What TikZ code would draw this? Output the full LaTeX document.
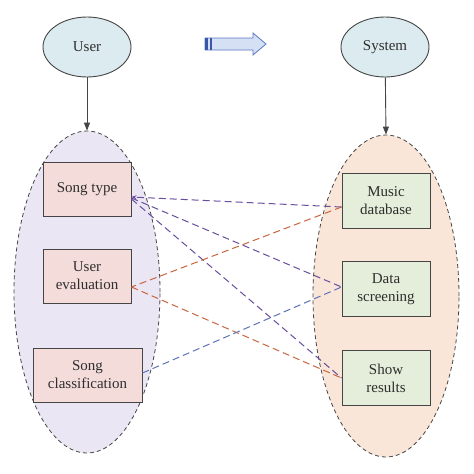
\documentclass[tikz,border=0pt]{standalone}
\usepackage{fontspec}
\setmainfont{Liberation Serif}
\usetikzlibrary{shapes.geometric, arrows.meta}

\definecolor{topfill}{HTML}{DCEBF0}
\definecolor{lavender}{HTML}{EAE6F3}
\definecolor{peach}{HTML}{F9E6D8}
\definecolor{pinkbox}{HTML}{F4DCDA}
\definecolor{greenbox}{HTML}{E4EEDA}
\definecolor{edge}{HTML}{454545}
\definecolor{ink}{HTML}{2E2E2E}
\definecolor{purp}{HTML}{6A4E9E}
\definecolor{oran}{HTML}{C9653E}
\definecolor{blu}{HTML}{5D73B6}
\definecolor{arrowfill}{HTML}{D6E0F4}
\definecolor{arrowedge}{HTML}{5C78C6}
\definecolor{arrowdark}{HTML}{3A56A8}

\begin{document}
\begin{tikzpicture}[x = 1pt, y = -1pt,
    every node/.style = {font = \fontsize{15}{18}\selectfont, text = ink, align = center},
    topell/.style = {ellipse, draw = edge, line width = 0.9pt, fill = topfill, minimum width = 88pt, minimum height = 60pt, inner sep = 0pt},
    groupell/.style = {ellipse, draw = edge, line width = 0.8pt, dash pattern = on 4pt off 3pt, minimum width = 146pt, minimum height = 322pt, inner sep = 0pt},
    ubox/.style = {rectangle, draw = edge, line width = 0.9pt, fill = pinkbox, minimum width = 88pt, minimum height = 54pt, inner sep = 0pt},
    sbox/.style = {rectangle, draw = edge, line width = 0.9pt, fill = greenbox, minimum width = 88pt, minimum height = 55pt, inner sep = 0pt},
    link/.style = {line width = 1pt, dash pattern = on 7pt off 4pt}]
        \useasboundingbox (0,0) rectangle (474,474);
        \fill[white] (0,0) rectangle (474,474);

        % top
        \node[topell] (user) at (87,47) {User};
        \node[topell] (system) at (385,47) {System};
        \draw[fill = arrowfill, draw = arrowedge, line width = 0.8pt] (205,38)-- (253,38)-- (253,33)-- (266,44)-- (253,55)-- (253,50)-- (205,50)--cycle;
        \fill[arrowdark] (205,38) rectangle (208,50);
        \fill[arrowdark] (209.5,38) rectangle (211.5,50);

        % groups
        \node[groupell, fill = lavender] (usergrp) at (87,292) {};
        \node[groupell, fill = peach] (sysgrp) at (386,296) {};
        \draw[edge, line width = 0.9pt, -{Triangle[length = 8pt, width = 6pt]}] (user) -- (usergrp.north);
        \draw[edge, line width = 0.9pt, -{Triangle[length = 8pt, width = 6pt]}] (system) -- (sysgrp.north);

        % boxes
        \node[ubox] (songtype) at (87,189) {Song type};
        \node[ubox] (usereval) at (87,276) {User\\evaluation};
        \node[ubox, minimum width = 109pt] (songcls) at (87.5,375) {Song\\classification};
        \node[sbox] (musicdb) at (386,201) {Music\\database};
        \node[sbox] (screen) at (386,289) {Data\\screening};
        \node[sbox] (results) at (386,378) {Show\\results};

        % links
        \draw[link, purp, -{Stealth[length = 5pt, width = 4pt]}] ([yshift = -6pt]musicdb.west) -- ([yshift = -8pt]songtype.east);
        \draw[link, purp] ([yshift = -9pt]songtype.east) -- ([yshift = 2pt]screen.west);
        \draw[link, purp] ([yshift = -10pt]songtype.east) -- (results.west);
        \draw[link, oran] ([yshift = -6pt]musicdb.west) -- ([yshift = -11pt]usereval.east);
        \draw[link, oran] ([yshift = -11pt]usereval.east) -- (results.west);
        \draw[link, blu] ([yshift = 2pt]songcls.east) -- ([yshift = 2pt]screen.west);
      \end{tikzpicture}
\end{document}
